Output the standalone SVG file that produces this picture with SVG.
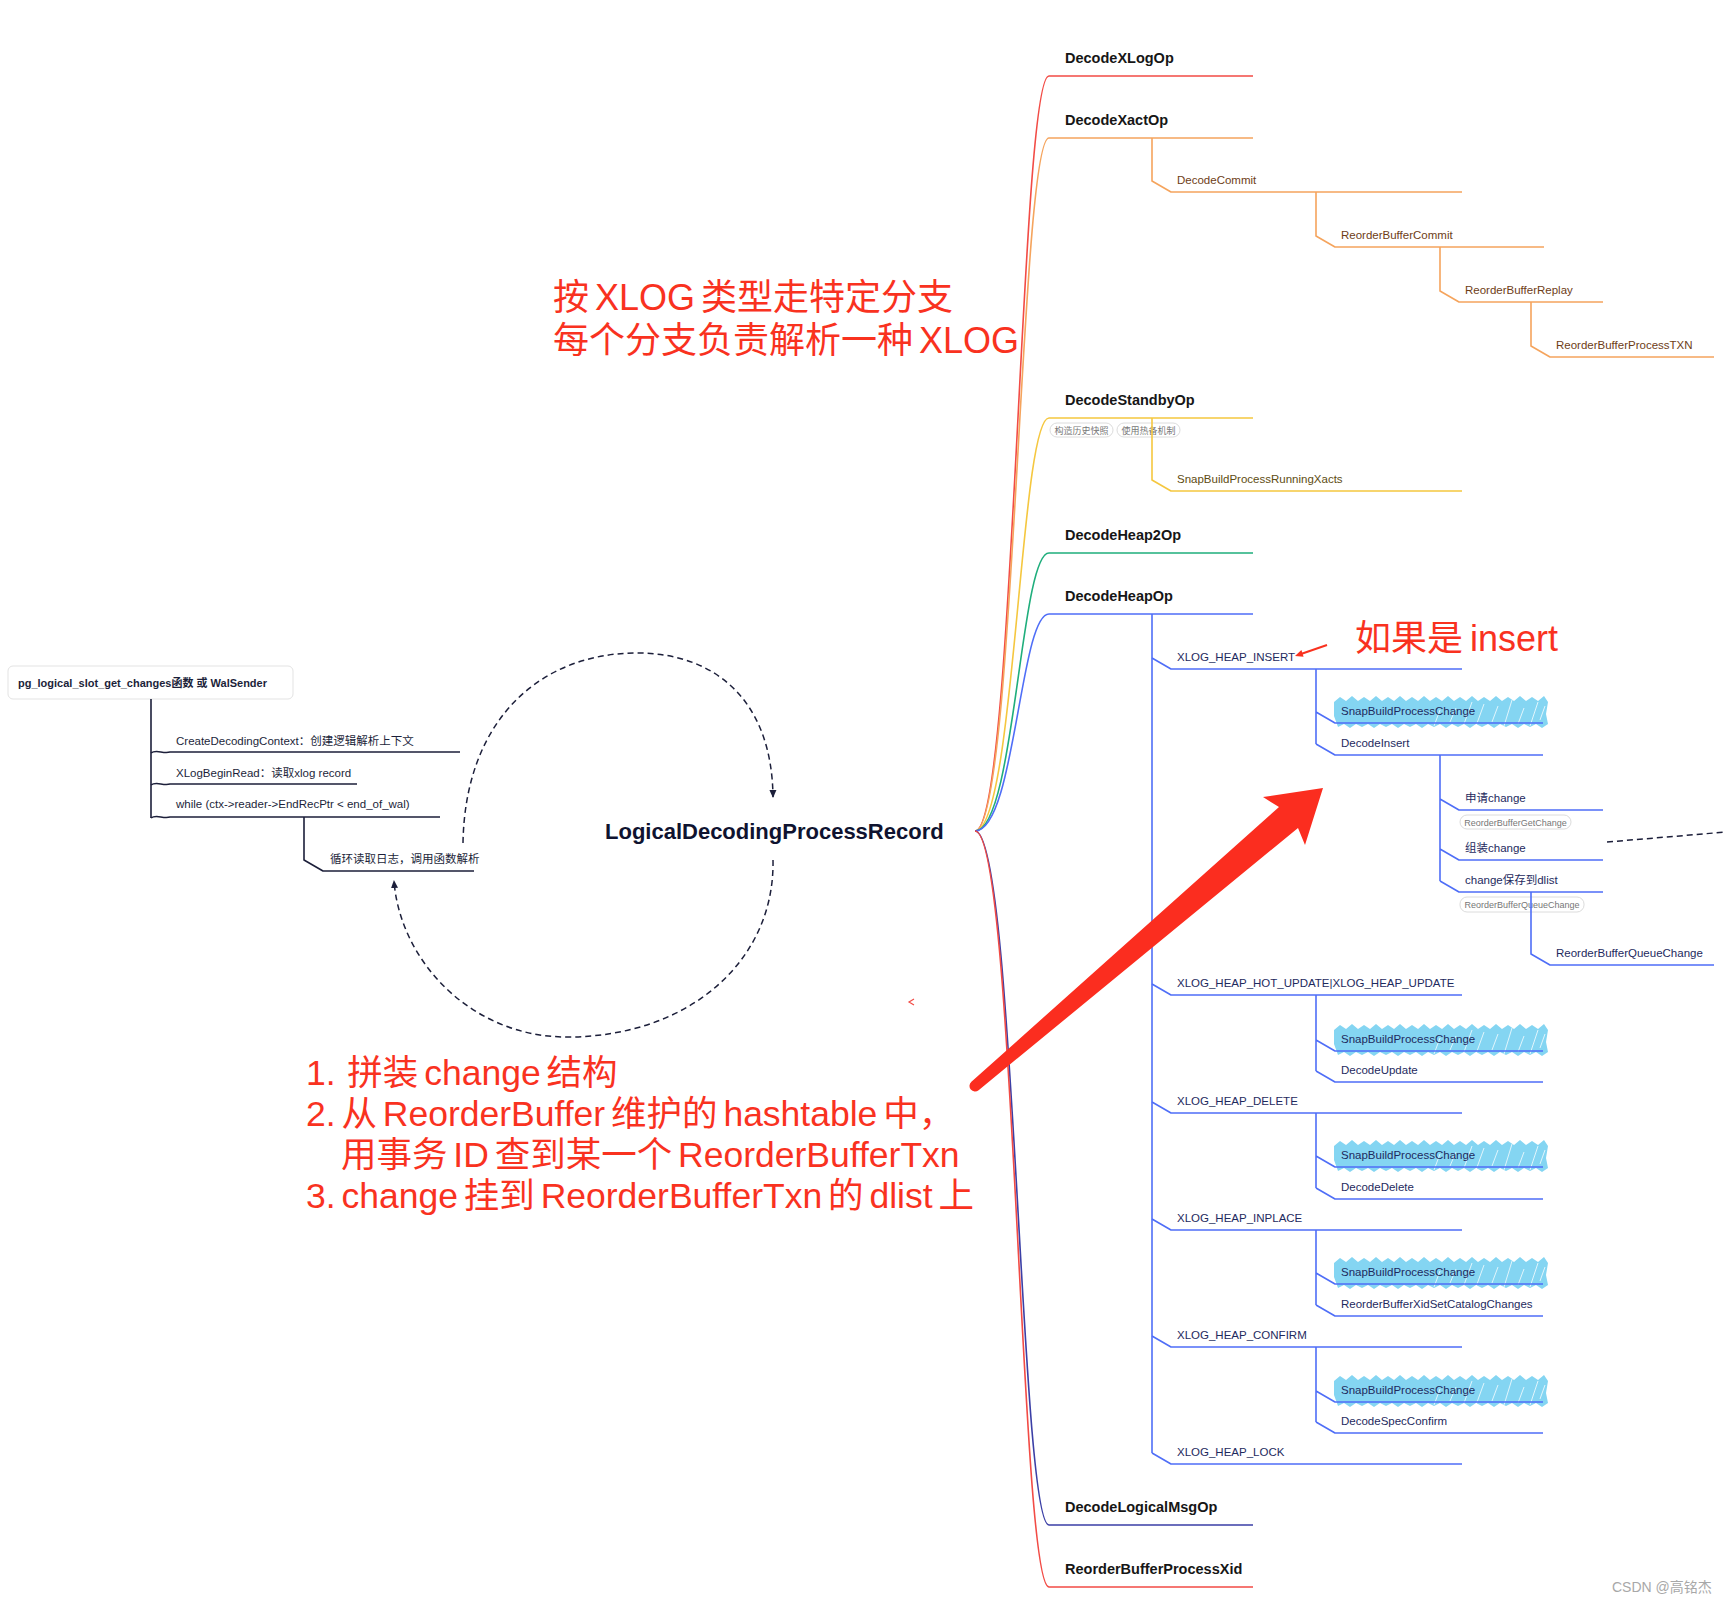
<svg xmlns="http://www.w3.org/2000/svg" width="1726" height="1604" viewBox="0 0 1726 1604">
<defs>
<style>
text{font-family:"Liberation Sans","Noto Sans CJK SC",sans-serif}
.main{font-size:14.5px;font-weight:bold;fill:#161616}
.root{font-size:22px;font-weight:bold;fill:#0f1330}
.sub{font-size:11.5px}
.o{fill:#6e3d17}.y{fill:#5e4c12}.b{fill:#1e2a5e}.k{fill:#1c1f3a}
.tag{font-size:9px;fill:#777;text-anchor:middle}
.tagbox{fill:#fff;stroke:#dcdcdc;stroke-width:1}
.ann{font-size:36px;fill:#f9321f;word-spacing:-4px}
.ann2{font-size:35.5px;fill:#f9321f;white-space:pre;word-spacing:-4px}
.ln{fill:none;stroke-width:1.6;stroke-linejoin:round}
.red{stroke:#f24b45}.org{stroke:#f5a45d}.yel{stroke:#f5c73f}.grn{stroke:#1fae7c}.blu{stroke:#4f6ef7}.ind{stroke:#3b3fa6}.blk{stroke:#1c1f3a}
.dash{fill:none;stroke:#1c1f3a;stroke-width:1.5;stroke-dasharray:6 4}
</style>
<marker id="ah" markerWidth="8" markerHeight="8" refX="7" refY="4" orient="auto" markerUnits="userSpaceOnUse">
<path d="M0,0.5 L8,4 L0,7.5 z" fill="#1c1f3a"/>
</marker>
<g id="hatch">
<polygon fill="#84d5f2" points="0,6 6,1 12,5 18,0 24,5 30,1 36,5 42,0 48,5 54,1 60,5 66,0 72,5 78,1 84,5 90,0 96,5 102,1 108,5 114,0 120,5 126,1 132,5 138,0 144,5 150,1 156,5 162,0 168,5 174,1 180,5 186,0 192,5 198,1 204,5 210,0 214,6 212,18 214,28 208,32 202,28 196,31 190,28 184,32 178,28 172,31 166,28 160,32 154,28 148,31 142,28 136,32 130,28 124,31 118,28 112,32 106,28 100,31 94,28 88,32 82,28 76,31 70,28 64,32 58,28 52,31 46,28 40,32 34,28 28,31 22,28 16,32 10,28 4,31 0,20"/>
<path d="M100,30 L106,14 M116,26 L122,12 M130,28 L138,6 M142,30 L150,8 M158,26 L164,10 M170,30 L178,4 M184,28 L190,12 M196,30 L204,6 M206,24 L211,10" stroke="#fff" stroke-width="1" opacity="0.75" fill="none"/>
</g>
</defs>
<rect width="1726" height="1604" fill="#fff"/>

<!-- left tree nodes -->
<g id="n-entry">
<rect x="8" y="666" width="285" height="33" rx="5" fill="#fff" stroke="#e3e3e3"/>
<text x="18" y="687" class="k" style="font-size:11px;font-weight:bold">pg_logical_slot_get_changes函数 或 WalSender</text>
</g>
<g id="n-create"><text x="176" y="745" class="sub k">CreateDecodingContext：创建逻辑解析上下文</text></g>
<g id="n-begin"><text x="176" y="777" class="sub k">XLogBeginRead：读取xlog record</text></g>
<g id="n-while"><text x="176" y="808" class="sub k">while (ctx-&gt;reader-&gt;EndRecPtr &lt; end_of_wal)</text></g>
<g id="n-loop"><text x="330" y="863" class="sub k">循环读取日志，调用函数解析</text></g>

<g id="n-root"><text x="605" y="839" class="root">LogicalDecodingProcessRecord</text></g>

<!-- main branches -->
<g id="n-xlog"><text x="1065" y="63" class="main">DecodeXLogOp</text></g>
<g id="n-xact"><text x="1065" y="125" class="main">DecodeXactOp</text></g>
<g id="n-commit"><text x="1177" y="184" class="sub o">DecodeCommit</text></g>
<g id="n-rbcommit"><text x="1341" y="239" class="sub o">ReorderBufferCommit</text></g>
<g id="n-rbreplay"><text x="1465" y="294" class="sub o">ReorderBufferReplay</text></g>
<g id="n-rbtxn"><text x="1556" y="349" class="sub o">ReorderBufferProcessTXN</text></g>

<g id="n-standby">
<text x="1065" y="405" class="main">DecodeStandbyOp</text>
<rect x="1050" y="423" width="63" height="14" rx="7" class="tagbox"/>
<text x="1081.5" y="433.5" class="tag">构造历史快照</text>
<rect x="1117" y="423" width="63" height="14" rx="7" class="tagbox"/>
<text x="1148.5" y="433.5" class="tag">使用热备机制</text>
</g>
<g id="n-running"><text x="1177" y="483" class="sub y">SnapBuildProcessRunningXacts</text></g>

<g id="n-heap2"><text x="1065" y="540" class="main">DecodeHeap2Op</text></g>
<g id="n-heap"><text x="1065" y="601" class="main">DecodeHeapOp</text></g>

<g id="n-insert"><text x="1177" y="661" class="sub b">XLOG_HEAP_INSERT</text></g>
<g id="n-snap1"><use href="#hatch" x="1334" y="696"/><text x="1341" y="715" class="sub b">SnapBuildProcessChange</text></g>
<g id="n-decinsert"><text x="1341" y="747" class="sub b">DecodeInsert</text></g>
<g id="n-apply"><text x="1465" y="802" class="sub b">申请change</text>
<rect x="1460" y="815" width="111" height="14" rx="7" class="tagbox"/>
<text x="1515.5" y="825.5" class="tag">ReorderBufferGetChange</text></g>
<g id="n-build"><text x="1465" y="852" class="sub b">组装change</text></g>
<g id="n-save"><text x="1465" y="884" class="sub b">change保存到dlist</text>
<rect x="1460" y="897" width="124" height="15" rx="7" class="tagbox"/>
<text x="1522" y="908" class="tag">ReorderBufferQueueChange</text></g>
<g id="n-queue"><text x="1556" y="957" class="sub b">ReorderBufferQueueChange</text></g>

<g id="n-update"><text x="1177" y="987" class="sub b">XLOG_HEAP_HOT_UPDATE|XLOG_HEAP_UPDATE</text></g>
<g id="n-snap2"><use href="#hatch" x="1334" y="1024"/><text x="1341" y="1043" class="sub b">SnapBuildProcessChange</text></g>
<g id="n-decupdate"><text x="1341" y="1074" class="sub b">DecodeUpdate</text></g>

<g id="n-delete"><text x="1177" y="1105" class="sub b">XLOG_HEAP_DELETE</text></g>
<g id="n-snap3"><use href="#hatch" x="1334" y="1140"/><text x="1341" y="1159" class="sub b">SnapBuildProcessChange</text></g>
<g id="n-decdelete"><text x="1341" y="1191" class="sub b">DecodeDelete</text></g>

<g id="n-inplace"><text x="1177" y="1222" class="sub b">XLOG_HEAP_INPLACE</text></g>
<g id="n-snap4"><use href="#hatch" x="1334" y="1257"/><text x="1341" y="1276" class="sub b">SnapBuildProcessChange</text></g>
<g id="n-catalog"><text x="1341" y="1308" class="sub b">ReorderBufferXidSetCatalogChanges</text></g>

<g id="n-confirm"><text x="1177" y="1339" class="sub b">XLOG_HEAP_CONFIRM</text></g>
<g id="n-snap5"><use href="#hatch" x="1334" y="1375"/><text x="1341" y="1394" class="sub b">SnapBuildProcessChange</text></g>
<g id="n-specconfirm"><text x="1341" y="1425" class="sub b">DecodeSpecConfirm</text></g>

<g id="n-lock"><text x="1177" y="1456" class="sub b">XLOG_HEAP_LOCK</text></g>

<g id="n-logicalmsg"><text x="1065" y="1512" class="main">DecodeLogicalMsgOp</text></g>
<g id="n-processxid"><text x="1065" y="1574" class="main">ReorderBufferProcessXid</text></g>

<!-- connectors -->
<g id="connectors">
<path class="ln blk" d="M151,699 L151,818"/>
<path class="ln blk" d="M151,753 C156,749 163,754 170,752 L460,752"/>
<path class="ln blk" d="M151,785 C156,781 163,786 170,784 L357,784"/>
<path class="ln blk" d="M151,818 C156,814 163,819 170,817 L440,817"/>
<path class="ln blk" d="M304,817 L304,860 L323,871 L474,871"/>

<path class="dash" d="M463,843 C465,720 540,653 637,653 C715,653 772,700 773,797" marker-end="url(#ah)"/>
<path class="dash" d="M773,860 C775,960 690,1037 567,1037 C470,1037 400,960 394,881" marker-end="url(#ah)"/>
<path class="dash" d="M1607,842 L1726,832"/>

<path class="ln red" d="M975,831 C1015,831 1020,76 1049,76 L1253,76"/>
<path class="ln org" d="M975,831 C1015,831 1020,138 1049,138 L1253,138"/>
<path class="ln yel" d="M975,831 C1015,831 1020,418 1049,418 L1253,418"/>
<path class="ln grn" d="M975,831 C1015,831 1020,553 1049,553 L1253,553"/>
<path class="ln blu" d="M975,831 C1015,831 1020,614 1049,614 L1253,614"/>
<path class="ln ind" d="M975,831 C1015,831 1020,1525 1049,1525 L1253,1525"/>
<path class="ln red" d="M975,831 C1015,831 1020,1587 1049,1587 L1253,1587"/>

<path class="ln org" d="M1152,138 L1152,181 L1171,192 L1462,192"/>
<path class="ln org" d="M1316,192 L1316,236 L1335,247 L1544,247"/>
<path class="ln org" d="M1440,247 L1440,291 L1459,302 L1603,302"/>
<path class="ln org" d="M1531,302 L1531,346 L1550,357 L1714,357"/>

<path class="ln yel" d="M1152,418 L1152,480 L1171,491 L1462,491"/>

<path class="ln blu" d="M1152,614 L1152,1453"/>
<path class="ln blu" d="M1152,658 L1171,669 L1462,669"/>
<path class="ln blu" d="M1152,984 L1171,995 L1462,995"/>
<path class="ln blu" d="M1152,1102 L1171,1113 L1462,1113"/>
<path class="ln blu" d="M1152,1219 L1171,1230 L1462,1230"/>
<path class="ln blu" d="M1152,1336 L1171,1347 L1462,1347"/>
<path class="ln blu" d="M1152,1453 L1171,1464 L1462,1464"/>

<path class="ln blu" d="M1316,669 L1316,744 M1316,712 L1335,723 L1543,723 M1316,744 L1335,755 L1543,755"/>
<path class="ln blu" d="M1440,755 L1440,881 M1440,799 L1459,810 L1603,810 M1440,849 L1459,860 L1603,860 M1440,881 L1459,892 L1603,892"/>
<path class="ln blu" d="M1531,892 L1531,954 L1550,965 L1714,965"/>
<path class="ln blu" d="M1316,995 L1316,1071 M1316,1040 L1335,1051 L1543,1051 M1316,1071 L1335,1082 L1543,1082"/>
<path class="ln blu" d="M1316,1113 L1316,1188 M1316,1156 L1335,1167 L1543,1167 M1316,1188 L1335,1199 L1543,1199"/>
<path class="ln blu" d="M1316,1230 L1316,1305 M1316,1273 L1335,1284 L1543,1284 M1316,1305 L1335,1316 L1543,1316"/>
<path class="ln blu" d="M1316,1347 L1316,1422 M1316,1391 L1335,1402 L1543,1402 M1316,1422 L1335,1433 L1543,1433"/>
</g>

<!-- annotations -->
<g id="annotations">
<text x="553" y="310" class="ann">按 XLOG 类型走特定分支</text>
<text x="553" y="353" class="ann">每个分支负责解析一种 XLOG</text>
<text x="1355" y="651" class="ann" style="word-spacing:-3px">如果是 insert</text>
<path d="M1327,645 L1301,654" stroke="#f9321f" stroke-width="2" fill="none"/>
<polygon points="1295,656 1303.6,656.8 1301.4,650" fill="#f9321f"/>
<text x="306" y="1085" class="ann2">1.  拼装 change 结构</text>
<text x="306" y="1126" class="ann2">2. 从 ReorderBuffer 维护的 hashtable 中，</text>
<text x="341" y="1167" class="ann2">用事务 ID 查到某一个 ReorderBufferTxn</text>
<text x="306" y="1208" class="ann2">3. change 挂到 ReorderBufferTxn 的 dlist 上</text>
<path d="M1279,807 L1263,797 L1323,788 L1305,845 L1298,828 L978.6,1090.2 A5.5,5.5 0 0 1 971.4,1081.8 Z" fill="#fb2d1f"/>
<path d="M914,999 L909,1002 L914,1005" stroke="#f24b45" stroke-width="1.2" fill="none"/>
<text x="1612" y="1592" style="font-size:14px;fill:#a8a8a8">CSDN @高铭杰</text>
</g>
</svg>
